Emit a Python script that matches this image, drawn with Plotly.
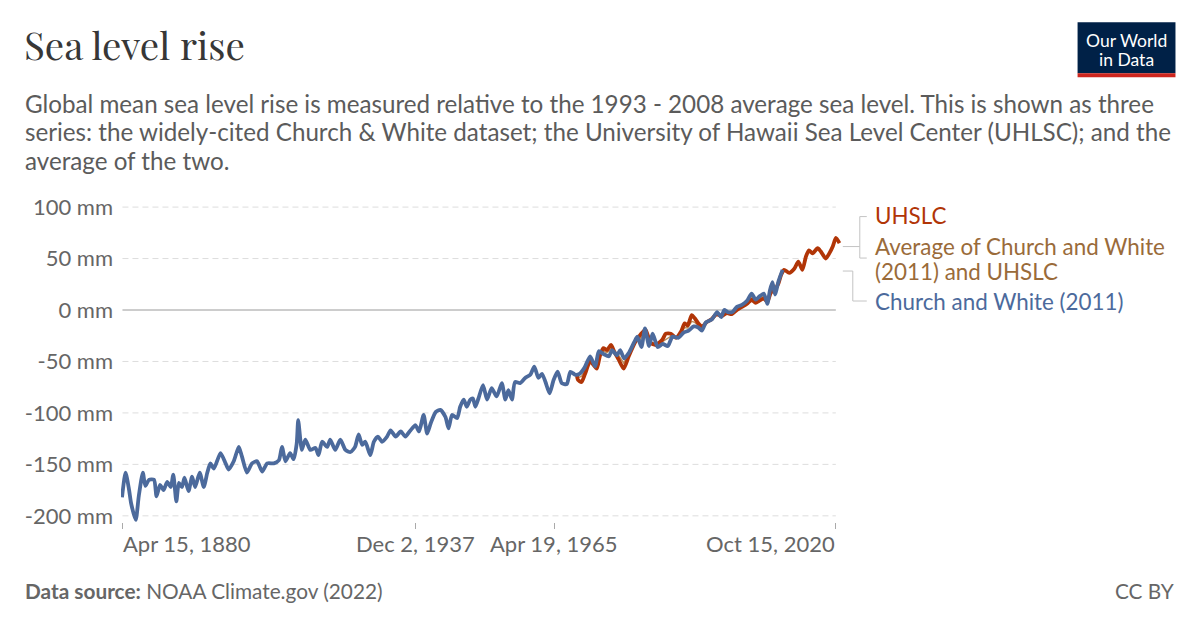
import plotly.graph_objects as go
import pandas as pd

# ---------------- data ----------------
cw_year = [1880.2, 1880.9, 1881.6, 1882.0, 1882.9, 1883.5, 1884.3, 1884.8, 1885.5, 1886.5,
           1887.0, 1887.7, 1888.4, 1889.1, 1889.8, 1890.3, 1890.9, 1891.4, 1892.0, 1892.5,
           1893.3, 1894.0, 1894.6, 1895.5, 1896.3, 1897.0, 1897.6, 1898.3, 1899.6, 1900.6,
           1901.2, 1902.2, 1903.2, 1903.8, 1904.8, 1905.8, 1906.8, 1907.8, 1908.8, 1910.1,
           1911.1, 1911.7, 1912.4, 1913.3, 1914.0, 1914.6, 1914.9, 1915.3, 1915.6, 1916.3,
           1917.3, 1918.3, 1918.9, 1919.6, 1920.6, 1921.2, 1922.2, 1923.2, 1924.2, 1925.2,
           1926.1, 1926.8, 1927.5, 1928.1, 1929.1, 1929.8, 1930.6, 1931.4, 1932.4, 1933.1,
           1934.1, 1935.1, 1936.0, 1937.0, 1938.0, 1938.7, 1939.6, 1940.3, 1941.0, 1942.0,
           1942.9, 1943.9, 1944.5, 1945.2, 1946.2, 1946.8, 1947.5, 1948.1, 1948.8, 1949.3,
           1949.8, 1950.4, 1951.3, 1952.1, 1953.0, 1954.0, 1955.0, 1955.7, 1956.3, 1957.0,
           1957.6, 1958.6, 1959.6, 1960.6, 1961.4, 1962.2, 1962.9, 1963.6, 1964.4, 1965.2,
           1966.0, 1966.8, 1967.8, 1968.5, 1969.5, 1970.3, 1971.3, 1972.4, 1973.4, 1974.1,
           1975.1, 1976.1, 1976.7, 1977.7, 1978.3, 1979.1, 1980.1, 1981.1, 1981.7, 1982.5,
           1983.2, 1984.0, 1984.7, 1985.7, 1986.7, 1987.7, 1988.6, 1989.8, 1990.8, 1991.8,
           1992.8, 1993.7, 1994.4, 1995.2, 1996.4, 1997.4, 1998.2, 1998.8, 1999.5, 2000.4,
           2001.3, 2002.3, 2003.3, 2004.2, 2005.0, 2005.7, 2006.6, 2007.3, 2007.8, 2008.3,
           2008.8, 2009.5, 2010.3]
cw_mm = [-182, -158, -175, -188, -204, -181, -158, -171, -165, -165,
         -181, -170, -175, -167, -172, -160, -186, -168, -172, -163,
         -176, -162, -172, -158, -172, -158, -149, -154, -139, -149,
         -155, -147, -133, -142, -158, -149, -147, -157, -149, -149,
         -146, -133, -147, -139, -145, -130, -107, -125, -136, -126,
         -136, -134, -141, -128, -133, -126, -136, -126, -136, -138,
         -133, -121, -131, -128, -141, -128, -123, -128, -123, -117,
         -123, -118, -123, -117, -112, -118, -102, -120, -110, -99,
         -97, -104, -115, -102, -105, -94, -87, -94, -87, -86,
         -94, -86, -73, -87, -76, -84, -71, -87, -78, -87,
         -70, -71, -66, -63, -55, -66, -62, -70, -81, -68,
         -60, -71, -72, -60, -63, -62, -56, -45, -55, -40,
         -43, -45, -39, -44, -39, -47, -41, -31, -26, -36,
         -18, -35, -23, -36, -33, -35, -26, -27, -22, -20,
         -16, -17, -20, -12, -9, -2, -7, 0, -2, -2,
         3, 5, 9, 16, 10, 13, 16, 6, 19, 27,
         15, 28, 39]

uh_year = [1969.8, 1970.0, 1970.7, 1971.4, 1972.4, 1973.7, 1974.3, 1975.0, 1975.7, 1976.5,
           1977.2, 1978.0, 1979.0, 1980.0, 1981.3, 1982.3, 1983.3, 1984.3, 1985.3, 1986.6,
           1987.3, 1988.3, 1989.3, 1990.3, 1991.0, 1991.6, 1992.4, 1993.0, 1993.7, 1994.5,
           1995.3, 1996.3, 1997.3, 1998.3, 1999.3, 2000.3, 2001.3, 2002.3, 2003.3, 2004.2,
           2005.0, 2005.7, 2006.6, 2007.3, 2008.0, 2008.8, 2009.5, 2010.0, 2010.6, 2011.6,
           2012.6, 2013.4, 2014.2, 2014.9, 2015.5, 2016.2, 2017.2, 2017.8, 2018.8, 2019.5,
           2020.2, 2020.8, 2021.5]
uh_mm = [-64, -68, -70, -62, -50, -57, -45, -37, -39, -34,
         -41, -48, -57, -45, -31, -24, -19, -32, -34, -29,
         -23, -23, -27, -21, -13, -15, -5, -8, -13, -16,
         -12, -9, -4, -6, -3, -4, 0, 3, 6, 10,
         7, 9, 11, 8, 17, 20, 26, 34, 39, 36,
         40, 47, 39, 52, 58, 55, 60, 57, 50, 55,
         62, 70, 65]

avg_year = uh_year[1:]
avg_mm = [-65.5, -64.5, -59, -47.5, -53.5, -42.5, -40, -41.5, -38,
          -41.5, -44, -51.5, -43.5, -30.5, -28.5, -19.5, -31, -32.5, -31,
          -28.5, -25.5, -26.5, -22.5, -17, -17.5, -11, -12, -15, -18,
          -12, -9, -3.5, -6, -2.5, -3, 1.5, 4, 7.5, 13,
          8.5, 11, 13.5, 7, 19.5, 17.5, 27, 34, 39, 36,
          40, 47, 39, 52, 58, 55, 60, 57, 50, 55,
          62, 70, 65]

y_ticks = [-200, -150, -100, -50, 0, 50, 100]
y_ticktext = [f"{v} mm" for v in y_ticks]
x_tick_dates = ["1880-04-15", "1937-12-02", "1965-04-19", "2020-10-15"]
x_tick_labels = ["Apr 15, 1880", "Dec 2, 1937", "Apr 19, 1965", "Oct 15, 2020"]

series_names = ["UHSLC", "Average of Church and White<br>(2011) and UHSLC", "Church and White (2011)"]

# ---------------- helpers ----------------
def dec_year(d):
    t = pd.Timestamp(d)
    start = pd.Timestamp(year=t.year, month=1, day=1)
    end = pd.Timestamp(year=t.year + 1, month=1, day=1)
    return t.year + (t - start) / (end - start)

x_ticks = [dec_year(d) for d in x_tick_dates]

W, H = 1200, 627
X_RANGE = [1880.0, 2022.0]
Y_RANGE = [-206, 103]
L, R = 120.5, 842.2
T, B = 203.9, 522.2

def px(x):
    return (x - L) / (R - L)

def py(y):
    return (B - y) / (B - T)

C_UH = "#B13507"
C_AVG = "#BC8E5A"
C_AVG_TXT = "#9A6B3A"
C_CW = "#4C6A9C"
FONT = "Lato"
GREY_TXT = "#5b5b5b"

fig = go.Figure()
fig.add_trace(go.Scatter(x=avg_year, y=avg_mm, mode="lines",
                         line=dict(color=C_AVG, width=1.5), name=series_names[1]))
fig.add_trace(go.Scatter(x=uh_year, y=uh_mm, mode="lines",
                         line=dict(color=C_UH, width=3.8, shape="spline", smoothing=0.6),
                         name=series_names[0]))
fig.add_trace(go.Scatter(x=cw_year, y=cw_mm, mode="lines",
                         line=dict(color=C_CW, width=3.8, shape="spline", smoothing=0.6),
                         name=series_names[2]))

shapes = []
for v in y_ticks:
    if v == 0:
        shapes.append(dict(type="line", xref="x", yref="y", x0=x_ticks[0], x1=x_ticks[-1],
                           y0=v, y1=v, line=dict(color="#9a9a9a", width=1), layer="below"))
    else:
        shapes.append(dict(type="line", xref="x", yref="y", x0=x_ticks[0], x1=x_ticks[-1],
                           y0=v, y1=v, line=dict(color="#dddddd", width=1, dash="6px,4px"),
                           layer="below"))

conn = "#c4c4c4"
def seg(x0, y0, x1, y1):
    shapes.append(dict(type="line", xref="paper", yref="paper", x0=px(x0), x1=px(x1),
                       y0=py(y0), y1=py(y1), line=dict(color=conn, width=1)))

seg(843, 246.5, 860, 246.5)
seg(860, 216.5, 860, 258)
seg(860, 216.5, 867, 216.5)
seg(860, 258, 867, 258)
seg(843, 271, 853, 271)
seg(853, 271, 853, 301)
seg(853, 301, 867, 301)

# logo
shapes.append(dict(type="rect", xref="paper", yref="paper", x0=px(1078), x1=px(1176),
                   y0=py(73), y1=py(22), fillcolor="#002147", line=dict(width=0)))
shapes.append(dict(type="rect", xref="paper", yref="paper", x0=px(1078), x1=px(1176),
                   y0=py(77), y1=py(73), fillcolor="#CE261E", line=dict(width=0)))

annotations = []
def text(x, y, s, size, color, xanchor="left", yanchor="middle", family=FONT, align="left"):
    annotations.append(dict(xref="paper", yref="paper", x=px(x), y=py(y), text=s,
                            showarrow=False, xanchor=xanchor, yanchor=yanchor,
                            font=dict(family=family, size=size, color=color),
                            borderpad=0, align=align))

text(22, 44, "Sea level rise", 38.5, "#373737", family="Playfair Display, Liberation Serif, serif")
text(1127, 40, "Our World", 17.5, "#ffffff", xanchor="center", align="center")
text(1127, 59, "in Data", 17.5, "#ffffff", xanchor="center", align="center")
sub = ["Global mean sea level rise is measured relative to the 1993 - 2008 average sea level. This is shown as three",
       "series: the widely-cited Church & White dataset; the University of Hawaii Sea Level Center (UHLSC); and the",
       "average of the two."]
for i, line in enumerate(sub):
    text(23, 103 + i * 28.7, line, 24.2, GREY_TXT)

# legend labels
text(874, 215.5, series_names[0], 22.4, C_UH)
text(874, 246.5, "Average of Church and White", 22.4, C_AVG_TXT)
text(874, 271.5, "(2011) and UHSLC", 22.4, C_AVG_TXT)
text(874, 301, series_names[2], 22.4, C_CW)

anchors = ["left", "center", "center", "right"]
for xv, lab, anc in zip(x_ticks, x_tick_labels, anchors):
    annotations.append(dict(xref="x", yref="paper", x=xv, y=py(544), text=lab, showarrow=False,
                            xanchor=anc, yanchor="middle", borderpad=0,
                            font=dict(family=FONT, size=22, color="#666666")))

text(23, 591, "<b>Data source:</b> NOAA Climate.gov (2022)", 20.8, "#666666")
text(1176, 591, "CC BY", 20.8, "#666666", xanchor="right")

fig.update_layout(
    width=W, height=H,
    margin=dict(l=L, r=W - R, t=T, b=H - B, pad=0),
    paper_bgcolor="white", plot_bgcolor="white",
    showlegend=False,
    shapes=shapes, annotations=annotations,
    xaxis=dict(range=X_RANGE, tickvals=x_ticks, showticklabels=False, ticks="outside",
               ticklen=6, tickcolor="#aaaaaa", showgrid=False, zeroline=False, showline=False),
    yaxis=dict(range=Y_RANGE, tickvals=y_ticks, ticktext=y_ticktext, ticks="",
               showgrid=False, zeroline=False, showline=False, ticklabelstandoff=7,
               tickfont=dict(family=FONT, size=22, color="#666666")),
)

fig.write_html("out.html")
